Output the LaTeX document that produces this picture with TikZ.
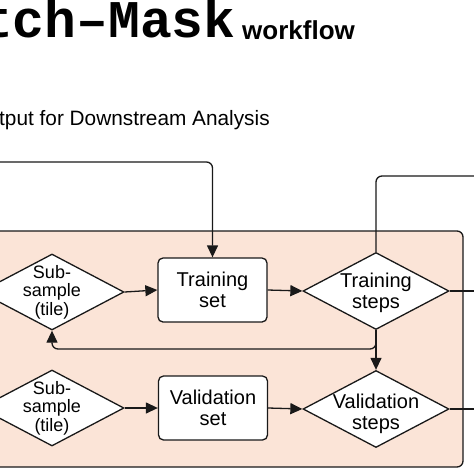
\documentclass[tikz,border=0pt]{standalone}
\usepackage{fontspec}
\setmainfont{Liberation Sans}
\newfontfamily\titlemono{Liberation Mono}
\usetikzlibrary{shapes.geometric,arrows.meta}
\definecolor{pinkbg}{RGB}{251,228,215}
\definecolor{ink}{RGB}{25,25,25}
\begin{document}
\begin{tikzpicture}[x=1pt,y=-1pt,
  line/.style={draw=ink, line width=1.3pt},
  arr/.style={line, -{Triangle[length=12pt,width=11pt]}},
  txt/.style={font=\fontsize{20}{21}\selectfont, align=center, inner sep=0pt},
  smalltxt/.style={font=\fontsize{18}{18.5}\selectfont, align=center, inner sep=0pt},
  box/.style={draw=ink, line width=1.3pt, fill=white, rounded corners=5pt,
    minimum width=109pt, minimum height=64pt, txt},
  dia/.style={diamond, draw=ink, line width=1.3pt, fill=white, inner sep=0pt},
  subdia/.style={dia, minimum width=144pt, minimum height=76pt},
  stepdia/.style={dia, minimum width=146pt, minimum height=77pt}
]
\useasboundingbox (0,0) rectangle (474,474);
\clip (0,0) rectangle (474,474);
\fill[white] (0,0) rectangle (474,474);

% titles
\node[anchor=base west, inner sep=0pt, font=\titlemono\bfseries\fontsize{53}{53}\selectfont] (title) at (-19,37) {tch–Mask};
\node[anchor=base west, inner sep=0pt, font=\bfseries\fontsize{26}{26}\selectfont] (wf) at (242,39) {workflow};
\node[anchor=base west, inner sep=0pt, font=\fontsize{20.8}{20.8}\selectfont] (sub) at (-1,125) {tput for Downstream Analysis};

% panel
\node[line, fill=pinkbg, rounded corners=6pt, minimum width=473pt, minimum height=236pt, inner sep=0pt] (panel) at (226.5,349) {};

% nodes
\node[subdia, label={[smalltxt]center:Sub-\\sample\\(tile)}] (ss1) at (52,292) {};
\node[box] (tset) at (212.5,290) {Training\\set};
\node[stepdia, label={[txt, yshift=-2pt]center:Training\\steps}] (tsteps) at (376,291) {};

\node[subdia, label={[smalltxt]center:Sub-\\sample\\(tile)}] (ss2) at (52,408) {};
\node[box] (vset) at (213,408) {Validation\\set};
\node[stepdia, label={[txt, yshift=-5pt]center:Validation\\steps}] (vsteps) at (376,409) {};

% free ends
\coordinate (in1) at (-10,162);
\coordinate (out1) at (490,176);
\coordinate (out2) at (490,291);
\coordinate (out3) at (490,409);
\coordinate (fb) at (376,349);

% connectors
\draw[arr, rounded corners=6pt] (in1) -| (tset.north);
\draw[arr] (ss1.east) -- (tset.west);
\draw[arr] (tset.east) -- (tsteps.west);
\draw[line, rounded corners=6pt] (tsteps.north) |- (out1);
\draw[line] (tsteps.east) -- (out2);
\draw[arr, rounded corners=6pt] (tsteps.south) -- (fb) -| (ss1.south);
\draw[arr] (tsteps.south) -- (vsteps.north);

\draw[arr] (ss2.east) -- (vset.west);
\draw[arr] (vset.east) -- (vsteps.west);
\draw[line] (vsteps.east) -- (out3);
\end{tikzpicture}
\end{document}
